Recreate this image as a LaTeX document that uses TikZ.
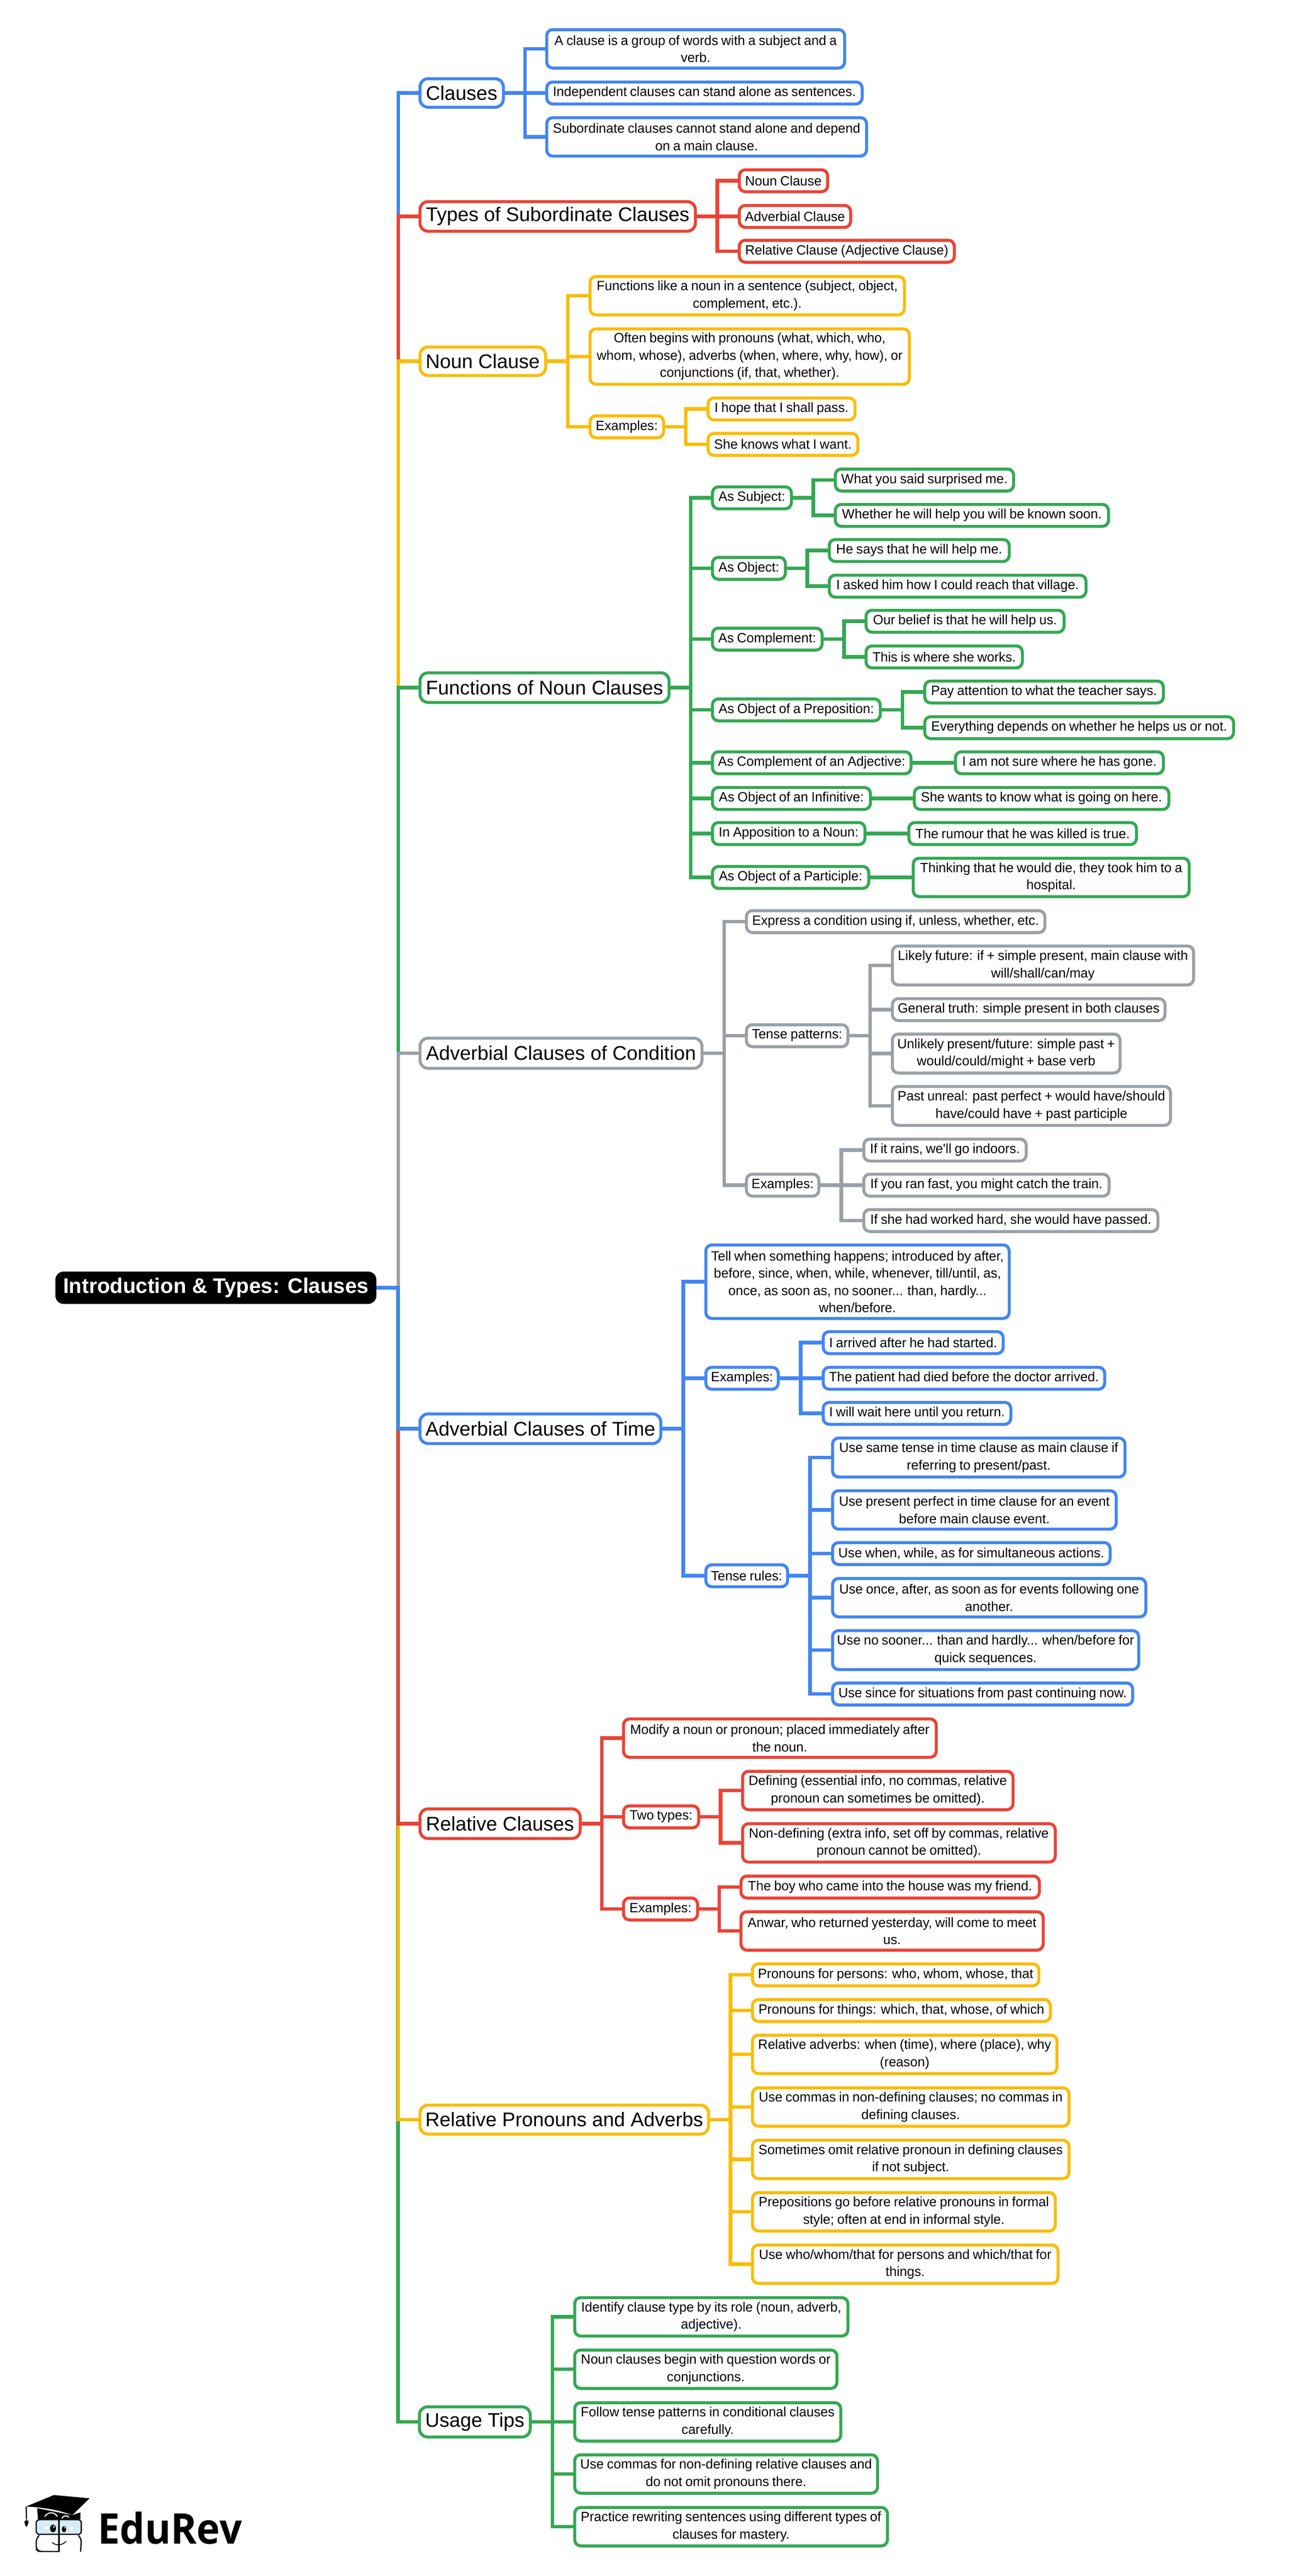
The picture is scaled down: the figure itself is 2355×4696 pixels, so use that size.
\documentclass[tikz,border=0pt]{standalone}
\usepackage{fontspec}
\setmainfont{Liberation Sans}
\newfontfamily\leaffont[FakeStretch=0.99,WordSpace=0.85]{Liberation Sans}
\newfontfamily\logofont[FakeStretch=0.935]{Open Sans}
\usetikzlibrary{calc}
\definecolor{cblue}{HTML}{4285F4}
\definecolor{cred}{HTML}{EA4335}
\definecolor{cyellow}{HTML}{FBBC04}
\definecolor{cgreen}{HTML}{34A853}
\definecolor{cgray}{HTML}{9AA0A6}
\definecolor{cglass}{HTML}{D5EBF7}
\tikzset{
  wh/.style 2 args={minimum width=#1pt,minimum height=#2pt},
  leaf/.style={draw=#1,fill=white,line width=5.5pt,rounded corners=11pt,inner sep=0pt,outer sep=0pt,
    align=center,font=\fontsize{24.5}{31.5}\leaffont},
  topic/.style={leaf=#1,rounded corners=15pt,font=\fontsize{36}{40}\selectfont},
  link/.style={line width=6.5pt,to path={(\tikztostart) -| ($(\tikztostart)!.5!(\tikztotarget)$) |- (\tikztotarget)}}
}
\begin{document}
\begin{tikzpicture}[x=1pt,y=-1pt]
    \useasboundingbox (0,0) rectangle (2355,4696);
    % root and main topics
    \node[fill=black,text=white,rounded corners=15pt,inner sep=0pt,outer sep=0pt,wh={585}{59},font=\fontsize{38.5}{40}\selectfont\bfseries] (root) at (393.5,2347.5) {Introduction \& Types: Clauses};
    \node[topic=cblue,wh={152}{52}] (clauses) at (841.5,169.5) {Clauses};
    \node[topic=cred,wh={502}{54}] (subTypes) at (1016.5,394.5) {Types of Subordinate Clauses};
    \node[topic=cyellow,wh={229}{52}] (nounClause) at (880,658.5) {Noun Clause};
    \node[topic=cgreen,wh={454}{54}] (nounFuncs) at (992.5,1253.5) {Functions of Noun Clauses};
    \node[topic=cgray,wh={514}{55}] (advCond) at (1022.5,1920) {Adverbial Clauses of Condition};
    \node[topic=cblue,wh={439}{54}] (advTime) at (985,2604.5) {Adverbial Clauses of Time};
    \node[topic=cred,wh={292}{54}] (relClauses) at (911.5,3324.5) {Relative Clauses};
    \node[topic=cyellow,wh={526}{53}] (relPron) at (1028.5,3864) {Relative Pronouns and Adverbs};
    \node[topic=cgreen,wh={202}{55}] (usage) at (865.5,4415) {Usage Tips};
    % clauses
    \node[leaf=cblue,wh={543}{70}] (claDef) at (1268,89) {A clause is a group of words with a subject and a\\verb.};
    \node[leaf=cblue,wh={575}{40}] (claInd) at (1284,169.5) {Independent clauses can stand alone as sentences.};
    \node[leaf=cblue,wh={583}{70}] (claSub) at (1288,249.5) {Subordinate clauses cannot stand alone and depend\\on a main clause.};
    % subordinate types
    \node[leaf=cred,wh={161}{40}] (typeNoun) at (1428,329.5) {Noun Clause};
    \node[leaf=cred,wh={203}{40}] (typeAdv) at (1449,394.5) {Adverbial Clause};
    \node[leaf=cred,wh={392}{40}] (typeRel) at (1543.5,458) {Relative Clause (Adjective Clause)};
    % noun clause
    \node[leaf=cyellow,wh={573}{70}] (nounLike) at (1362,539) {Functions like a noun in a sentence (subject, object,\\complement, etc.).};
    \node[leaf=cyellow,wh={582}{101}] (nounBegin) at (1366.5,650) {Often begins with pronouns (what, which, who,\\whom, whose), adverbs (when, where, why, how), or\\conjunctions (if, that, whether).};
    \node[leaf=cyellow,wh={134}{40}] (nounEx) at (1142.5,778) {Examples:};
    \node[leaf=cyellow,wh={268}{40}] (nounExA) at (1424.5,745.5) {I hope that I shall pass.};
    \node[leaf=cyellow,wh={273}{40}] (nounExB) at (1427,810) {She knows what I want.};
    % functions of noun clauses
    \node[leaf=cgreen,wh={144}{40}] (fnSubj) at (1370.5,907.5) {As Subject:};
    \node[leaf=cgreen,wh={325}{40}] (fnSubjA) at (1685,875) {What you said surprised me.};
    \node[leaf=cgreen,wh={498}{40}] (fnSubjB) at (1771.5,939.5) {Whether he will help you will be known soon.};
    \node[leaf=cgreen,wh={133}{40}] (fnObj) at (1365,1036) {As Object:};
    \node[leaf=cgreen,wh={328}{40}] (fnObjA) at (1675.5,1003.5) {He says that he will help me.};
    \node[leaf=cgreen,wh={468}{40}] (fnObjB) at (1745.5,1068.5) {I asked him how I could reach that village.};
    \node[leaf=cgreen,wh={200}{40}] (fnComp) at (1398.5,1165) {As Complement:};
    \node[leaf=cgreen,wh={361}{40}] (fnCompA) at (1759,1132.5) {Our belief is that he will help us.};
    \node[leaf=cgreen,wh={285}{40}] (fnCompB) at (1721,1197.5) {This is where she works.};
    \node[leaf=cgreen,wh={306}{40}] (fnPrep) at (1451.5,1294) {As Object of a Preposition:};
    \node[leaf=cgreen,wh={435}{40}] (fnPrepA) at (1903,1261.5) {Pay attention to what the teacher says.};
    \node[leaf=cgreen,wh={563}{40}] (fnPrepB) at (1967,1326.5) {Everything depends on whether he helps us or not.};
    \node[leaf=cgreen,wh={362}{40}] (fnAdj) at (1479.5,1390.5) {As Complement of an Adjective:};
    \node[leaf=cgreen,wh={379}{40}] (fnAdjA) at (1931,1390.5) {I am not sure where he has gone.};
    \node[leaf=cgreen,wh={288}{40}] (fnInf) at (1442.5,1455.5) {As Object of an Infinitive:};
    \node[leaf=cgreen,wh={464}{40}] (fnInfA) at (1898.5,1455.5) {She wants to know what is going on here.};
    \node[leaf=cgreen,wh={278}{40}] (fnAppo) at (1437.5,1519.5) {In Apposition to a Noun:};
    \node[leaf=cgreen,wh={415}{40}] (fnAppoA) at (1864,1519.5) {The rumour that he was killed is true.};
    \node[leaf=cgreen,wh={285}{40}] (fnPart) at (1441,1599.5) {As Object of a Participle:};
    \node[leaf=cgreen,wh={503}{70}] (fnPartA) at (1916,1599.5) {Thinking that he would die, they took him to a\\hospital.};
    % adverbial clauses of condition
    \node[leaf=cgray,wh={544}{40}] (condUse) at (1632.5,1680) {Express a condition using if, unless, whether, etc.};
    \node[leaf=cgray,wh={185}{40}] (condPat) at (1453,1888) {Tense patterns:};
    \node[leaf=cgray,wh={549}{71}] (condPatA) at (1901,1760) {Likely future: if + simple present, main clause with\\will/shall/can/may};
    \node[leaf=cgray,wh={497}{40}] (condPatB) at (1875,1840.5) {General truth: simple present in both clauses};
    \node[leaf=cgray,wh={415}{71}] (condPatC) at (1834,1920.5) {Unlikely present/future: simple past +\\would/could/might + base verb};
    \node[leaf=cgray,wh={507}{71}] (condPatD) at (1880,2016) {Past unreal: past perfect + would have/should\\have/could have + past participle};
    \node[leaf=cgray,wh={132}{40}] (condEx) at (1426.5,2160.5) {Examples:};
    \node[leaf=cgray,wh={296}{40}] (condExA) at (1722.5,2096.5) {If it rains, we\textquotesingle ll go indoors.};
    \node[leaf=cgray,wh={447}{40}] (condExB) at (1798,2160.5) {If you ran fast, you might catch the train.};
    \node[leaf=cgray,wh={536}{40}] (condExC) at (1842.5,2225) {If she had worked hard, she would have passed.};
    % adverbial clauses of time
    \node[leaf=cblue,wh={553}{134}] (timeUse) at (1563,2336.5) {Tell when something happens; introduced by after,\\before, since, when, while, whenever, till/until, as,\\once, as soon as, no sooner... than, hardly...\\when/before.};
    \node[leaf=cblue,wh={132}{40}] (timeEx) at (1352.5,2512.5) {Examples:};
    \node[leaf=cblue,wh={328}{40}] (timeExA) at (1664.5,2447.5) {I arrived after he had started.};
    \node[leaf=cblue,wh={513}{40}] (timeExB) at (1757,2512.5) {The patient had died before the doctor arrived.};
    \node[leaf=cblue,wh={342}{40}] (timeExC) at (1671.5,2576.5) {I will wait here until you return.};
    \node[leaf=cblue,wh={149}{40}] (timeRule) at (1361,2872.5) {Tense rules:};
    \node[leaf=cblue,wh={533}{71}] (timeRuleA) at (1784,2657) {Use same tense in time clause as main clause if\\referring to present/past.};
    \node[leaf=cblue,wh={517}{70}] (timeRuleB) at (1776,2752.5) {Use present perfect in time clause for an event\\before main clause event.};
    \node[leaf=cblue,wh={506}{40}] (timeRuleC) at (1770.5,2832) {Use when, while, as for simultaneous actions.};
    \node[leaf=cblue,wh={571}{70}] (timeRuleD) at (1803,2912.5) {Use once, after, as soon as for events following one\\another.};
    \node[leaf=cblue,wh={558}{71}] (timeRuleE) at (1796.5,3008) {Use no sooner... than and hardly... when/before for\\quick sequences.};
    \node[leaf=cblue,wh={547}{40}] (timeRuleF) at (1791,3088) {Use since for situations from past continuing now.};
    % relative clauses
    \node[leaf=cred,wh={570}{70}] (relMod) at (1421.5,3168.5) {Modify a noun or pronoun; placed immediately after\\the noun.};
    \node[leaf=cred,wh={137}{40}] (relTwo) at (1205,3312) {Two types:};
    \node[leaf=cred,wh={493}{70}] (relTwoA) at (1600,3264) {Defining (essential info, no commas, relative\\pronoun can sometimes be omitted).};
    \node[leaf=cred,wh={570}{70}] (relTwoB) at (1638.5,3359.5) {Non-defining (extra info, set off by commas, relative\\pronoun cannot be omitted).};
    \node[leaf=cred,wh={135}{40}] (relEx) at (1204,3480) {Examples:};
    \node[leaf=cred,wh={544}{40}] (relExA) at (1622.5,3440) {The boy who came into the house was my friend.};
    \node[leaf=cred,wh={551}{70}] (relExB) at (1626,3520) {Anwar, who returned yesterday, will come to meet\\us.};
    % relative pronouns and adverbs
    \node[leaf=cyellow,wh={522}{40}] (pronA) at (1632.5,3600) {Pronouns for persons: who, whom, whose, that};
    \node[leaf=cyellow,wh={543}{40}] (pronB) at (1643,3665) {Pronouns for things: which, that, whose, of which};
    \node[leaf=cyellow,wh={555}{70}] (pronC) at (1649,3745) {Relative adverbs: when (time), where (place), why\\(reason)};
    \node[leaf=cyellow,wh={577}{70}] (pronD) at (1660,3841) {Use commas in non-defining clauses; no commas in\\defining clauses.};
    \node[leaf=cyellow,wh={577}{70}] (pronE) at (1660,3936.5) {Sometimes omit relative pronoun in defining clauses\\if not subject.};
    \node[leaf=cyellow,wh={552}{70}] (pronF) at (1647.5,4032) {Prepositions go before relative pronouns in formal\\style; often at end in informal style.};
    \node[leaf=cyellow,wh={557}{70}] (pronG) at (1650,4127.5) {Use who/whom/that for persons and which/that for\\things.};
    % usage tips
    \node[leaf=cgreen,wh={498}{70}] (tipA) at (1296.5,4223.5) {Identify clause type by its role (noun, adverb,\\adjective).};
    \node[leaf=cgreen,wh={478}{70}] (tipB) at (1286.5,4319) {Noun clauses begin with question words or\\conjunctions.};
    \node[leaf=cgreen,wh={485}{70}] (tipC) at (1290,4415) {Follow tense patterns in conditional clauses\\carefully.};
    \node[leaf=cgreen,wh={552}{70}] (tipD) at (1323.5,4510) {Use commas for non-defining relative clauses and\\do not omit pronouns there.};
    \node[leaf=cgreen,wh={570}{70}] (tipE) at (1332.5,4606) {Practice rewriting sentences using different types of\\clauses for mastery.};
    % trunk, upper half top down, lower half bottom up
    \draw[link,cblue] (root.east) to (clauses.west);
    \draw[link,cred] (root.east) to (subTypes.west);
    \draw[link,cyellow] (root.east) to (nounClause.west);
    \draw[link,cgreen] (root.east) to (nounFuncs.west);
    \draw[link,cgray] (root.east) to (advCond.west);
    \draw[link,cgreen] (root.east) to (usage.west);
    \draw[link,cyellow] (root.east) to (relPron.west);
    \draw[link,cred] (root.east) to (relClauses.west);
    \draw[link,cblue] (root.east) to (advTime.west);
    % branches
    \draw[link,cblue] (clauses.east) to (claDef.west);
    \draw[link,cblue] (clauses.east) to (claInd.west);
    \draw[link,cblue] (clauses.east) to (claSub.west);
    \draw[link,cred] (subTypes.east) to (typeNoun.west);
    \draw[link,cred] (subTypes.east) to (typeAdv.west);
    \draw[link,cred] (subTypes.east) to (typeRel.west);
    \draw[link,cyellow] (nounClause.east) to (nounLike.west);
    \draw[link,cyellow] (nounClause.east) to (nounBegin.west);
    \draw[link,cyellow] (nounClause.east) to (nounEx.west);
    \draw[link,cyellow] (nounEx.east) to (nounExA.west);
    \draw[link,cyellow] (nounEx.east) to (nounExB.west);
    \draw[link,cgreen] (nounFuncs.east) to (fnSubj.west);
    \draw[link,cgreen] (nounFuncs.east) to (fnObj.west);
    \draw[link,cgreen] (nounFuncs.east) to (fnComp.west);
    \draw[link,cgreen] (nounFuncs.east) to (fnPrep.west);
    \draw[link,cgreen] (nounFuncs.east) to (fnAdj.west);
    \draw[link,cgreen] (nounFuncs.east) to (fnInf.west);
    \draw[link,cgreen] (nounFuncs.east) to (fnAppo.west);
    \draw[link,cgreen] (nounFuncs.east) to (fnPart.west);
    \draw[link,cgreen] (fnSubj.east) to (fnSubjA.west);
    \draw[link,cgreen] (fnSubj.east) to (fnSubjB.west);
    \draw[link,cgreen] (fnObj.east) to (fnObjA.west);
    \draw[link,cgreen] (fnObj.east) to (fnObjB.west);
    \draw[link,cgreen] (fnComp.east) to (fnCompA.west);
    \draw[link,cgreen] (fnComp.east) to (fnCompB.west);
    \draw[link,cgreen] (fnPrep.east) to (fnPrepA.west);
    \draw[link,cgreen] (fnPrep.east) to (fnPrepB.west);
    \draw[link,cgreen] (fnAdj.east) to (fnAdjA.west);
    \draw[link,cgreen] (fnInf.east) to (fnInfA.west);
    \draw[link,cgreen] (fnAppo.east) to (fnAppoA.west);
    \draw[link,cgreen] (fnPart.east) to (fnPartA.west);
    \draw[link,cgray] (advCond.east) to (condUse.west);
    \draw[link,cgray] (advCond.east) to (condPat.west);
    \draw[link,cgray] (advCond.east) to (condEx.west);
    \draw[link,cgray] (condPat.east) to (condPatA.west);
    \draw[link,cgray] (condPat.east) to (condPatB.west);
    \draw[link,cgray] (condPat.east) to (condPatC.west);
    \draw[link,cgray] (condPat.east) to (condPatD.west);
    \draw[link,cgray] (condEx.east) to (condExA.west);
    \draw[link,cgray] (condEx.east) to (condExB.west);
    \draw[link,cgray] (condEx.east) to (condExC.west);
    \draw[link,cblue] (advTime.east) to (timeUse.west);
    \draw[link,cblue] (advTime.east) to (timeEx.west);
    \draw[link,cblue] (advTime.east) to (timeRule.west);
    \draw[link,cblue] (timeEx.east) to (timeExA.west);
    \draw[link,cblue] (timeEx.east) to (timeExB.west);
    \draw[link,cblue] (timeEx.east) to (timeExC.west);
    \draw[link,cblue] (timeRule.east) to (timeRuleA.west);
    \draw[link,cblue] (timeRule.east) to (timeRuleB.west);
    \draw[link,cblue] (timeRule.east) to (timeRuleC.west);
    \draw[link,cblue] (timeRule.east) to (timeRuleD.west);
    \draw[link,cblue] (timeRule.east) to (timeRuleE.west);
    \draw[link,cblue] (timeRule.east) to (timeRuleF.west);
    \draw[link,cred] (relClauses.east) to (relMod.west);
    \draw[link,cred] (relClauses.east) to (relTwo.west);
    \draw[link,cred] (relClauses.east) to (relEx.west);
    \draw[link,cred] (relTwo.east) to (relTwoA.west);
    \draw[link,cred] (relTwo.east) to (relTwoB.west);
    \draw[link,cred] (relEx.east) to (relExA.west);
    \draw[link,cred] (relEx.east) to (relExB.west);
    \draw[link,cyellow] (relPron.east) to (pronA.west);
    \draw[link,cyellow] (relPron.east) to (pronB.west);
    \draw[link,cyellow] (relPron.east) to (pronC.west);
    \draw[link,cyellow] (relPron.east) to (pronD.west);
    \draw[link,cyellow] (relPron.east) to (pronE.west);
    \draw[link,cyellow] (relPron.east) to (pronF.west);
    \draw[link,cyellow] (relPron.east) to (pronG.west);
    \draw[link,cgreen] (usage.east) to (tipA.west);
    \draw[link,cgreen] (usage.east) to (tipB.west);
    \draw[link,cgreen] (usage.east) to (tipC.west);
    \draw[link,cgreen] (usage.east) to (tipD.west);
    \draw[link,cgreen] (usage.east) to (tipE.west);
    % logo
    \node[anchor=base west,inner sep=0pt,font=\fontsize{77}{80}\logofont\bfseries] (logoText) at (178,4637) {EduRev};
    \begin{scope}[shift={(30,4540)},x=0.3333pt,y=-0.3333pt]
        \fill (113,97) -- (118,158) -- (350,158) -- (350,120) -- (305,135) -- cycle;
        \draw[white,line width=2pt] (155,143) .. controls (175,115) and (205,115) .. (225,143);
        \draw[white,line width=2pt] (248,152) .. controls (258,135) and (275,135) .. (287,147);
        \fill (52,88) -- (205,25) -- (400,43) -- (305,135) .. controls (230,105) and (140,92) .. (52,88) -- cycle;
        \draw[line width=2pt] (53,88) -- (55,160);
        \fill (44,170) .. controls (48,160) and (62,160) .. (66,170) .. controls (66,180) and (60,192) .. (54,200) .. controls (48,192) and (44,180) .. (44,170) -- cycle;
        \draw[line width=2.2pt,fill=cglass,rounded corners=6pt] (108,160) rectangle (355,240);
        \draw[line width=2.2pt,rounded corners=7pt] (125,245) -- (108,262) -- (108,322) -- (122,334) -- (232,334);
        \draw[line width=2.2pt,rounded corners=7pt] (338,245) -- (355,262) -- (351,335);
        \draw[line width=3pt] (232,155) -- (232,336);
        \fill (200,208) ellipse (16 and 21);
        \fill (260,212) ellipse (12 and 17);
        \fill[white] (204,199) circle (5);
        \fill[white] (263,204) circle (4);
        \fill[white] (157,198) rectangle (173,213);
        \fill[white] (290,198) rectangle (308,213);
        \draw[line width=1.6pt] (195,285) .. controls (220,305) and (250,300) .. (272,278);
    \end{scope}
\end{tikzpicture}
\end{document}
